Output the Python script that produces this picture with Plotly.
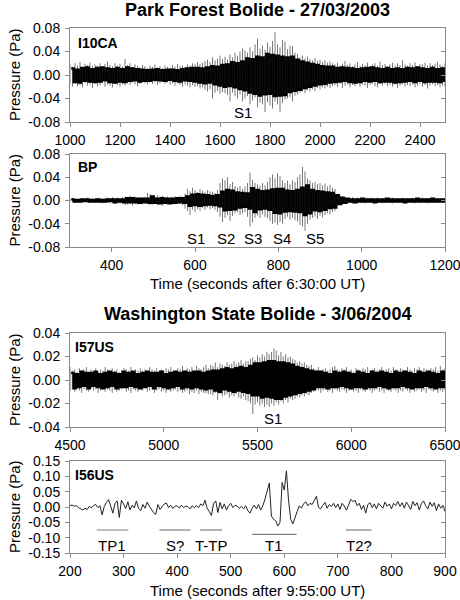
import plotly.graph_objects as go

# ------------------------------------------------------------------
# DATA (Pa)
# ------------------------------------------------------------------
# Panel 1 : I10CA, Park Forest bolide  (outer spikes: peak / trough per 10 s bin)
p1_start, p1_step = 1000, 10
p1_up = [0.018,0.014,0.02,0.016,0.022,0.013,0.019,0.017,0.021,0.015,
         0.018,0.016,0.02,0.014,0.019,0.023,0.017,0.015,0.02,0.016,
         0.019,0.015,0.027,0.017,0.02,0.014,0.018,0.016,0.013,0.017,
         0.015,0.012,0.016,0.014,0.018,0.013,0.015,0.012,0.016,0.014,
         0.013,0.017,0.014,0.019,0.015,0.016,0.014,0.018,0.016,0.02,
         0.018,0.022,0.019,0.021,0.024,
         0.026,0.022,0.03,0.025,0.028,0.033,0.027,0.031,0.026,0.035,0.03,0.038,0.033,0.04,0.045,
         0.042,0.038,0.047,0.04,0.052,0.062,0.045,0.05,0.043,0.055,0.048,0.058,0.073,0.052,0.047,
         0.06,0.057,0.044,0.05,0.049,0.038,
         0.036,0.03,0.033,0.028,0.031,0.027,0.025,0.029,0.024,0.026,0.022,0.025,0.021,0.023,0.02,
         0.018,0.021,0.016,0.019,0.024,0.017,0.02,0.015,0.018,0.022,
         0.016,0.019,0.017,0.021,0.015,0.018,0.02,0.016,0.023,0.017,
         0.019,0.015,0.018,0.021,0.016,0.02,0.017,0.025,0.018,0.016,
         0.02,0.017,0.022,0.015,0.019,0.018,0.021,0.016,0.02,0.017,
         0.019,0.022,0.018,0.016,0.02]
p1_lo = [-0.016,-0.02,-0.015,-0.019,-0.017,-0.021,-0.014,-0.018,-0.016,-0.022,
         -0.015,-0.019,-0.017,-0.014,-0.02,-0.016,-0.018,-0.021,-0.015,-0.017,
         -0.02,-0.016,-0.018,-0.014,-0.017,-0.013,-0.016,-0.019,-0.015,-0.013,
         -0.014,-0.016,-0.012,-0.015,-0.013,-0.017,-0.014,-0.012,-0.015,-0.013,
         -0.016,-0.014,-0.018,-0.015,-0.017,-0.02,-0.016,-0.018,-0.021,-0.017,
         -0.02,-0.019,-0.023,-0.021,-0.025,
         -0.028,-0.024,-0.04,-0.03,-0.027,-0.032,-0.029,-0.031,-0.034,-0.045,-0.03,-0.036,-0.04,-0.033,-0.045,
         -0.04,-0.036,-0.05,-0.043,-0.038,-0.055,-0.047,-0.05,-0.063,-0.046,-0.052,-0.057,-0.045,-0.05,-0.063,
         -0.048,-0.042,-0.04,-0.038,-0.045,-0.035,
         -0.033,-0.03,-0.028,-0.031,-0.026,-0.028,-0.024,-0.027,-0.022,-0.025,-0.021,-0.023,-0.02,-0.022,-0.019,
         -0.017,-0.02,-0.015,-0.022,-0.018,-0.016,-0.021,-0.017,-0.019,-0.015,
         -0.02,-0.016,-0.018,-0.022,-0.017,-0.015,-0.019,-0.021,-0.016,-0.018,
         -0.015,-0.019,-0.017,-0.02,-0.016,-0.022,-0.018,-0.016,-0.02,-0.017,
         -0.019,-0.016,-0.021,-0.018,-0.015,-0.02,-0.017,-0.023,-0.018,-0.016,
         -0.019,-0.017,-0.021,-0.018,-0.02]
# dense black core of the trace: successive extremes, one per 10 s
p1_core = [0.011,-0.012,0.009,-0.013,0.012,-0.01,0.013,-0.011,0.01,-0.012,
           0.012,-0.011,0.013,-0.009,0.011,-0.012,0.01,-0.013,0.012,-0.011,
           0.01,-0.012,0.013,-0.01,0.011,-0.009,0.01,-0.011,0.009,-0.01,
           0.008,-0.01,0.009,-0.008,0.01,-0.009,0.008,-0.01,0.009,-0.008,
           0.009,-0.01,0.008,-0.011,0.01,-0.009,0.011,-0.01,0.012,-0.011,
           0.012,-0.013,0.011,-0.014,0.013,
           -0.013,0.015,-0.016,0.014,-0.018,0.017,-0.02,0.018,-0.019,0.022,-0.021,0.02,-0.024,0.023,-0.026,
           0.028,-0.03,0.027,-0.032,0.031,-0.035,0.03,-0.033,0.036,-0.032,0.034,-0.036,0.033,-0.035,0.031,
           -0.034,0.03,-0.029,0.031,-0.027,0.026,
           -0.025,0.023,-0.022,0.021,-0.02,0.019,-0.018,0.017,-0.016,0.015,-0.015,0.014,-0.013,0.014,-0.012,
           0.012,-0.011,0.013,-0.01,0.012,-0.012,0.011,-0.013,0.01,-0.012,
           0.011,-0.01,0.012,-0.011,0.013,-0.01,0.011,-0.012,0.01,-0.011,
           0.012,-0.011,0.01,-0.013,0.011,-0.012,0.01,-0.011,0.012,-0.01,
           0.011,-0.012,0.013,-0.01,0.011,-0.012,0.01,-0.011,0.012,-0.011,
           0.01,-0.012,0.011,-0.01,0.012]

# Panel 2 : BP  (6 s bins)
p2_start, p2_step = 300, 6
p2_up = [.003,.004,.003,.002,.004,.003,.003,.005,.003,.004,.003,.004,.005,.004,.003,.005,.004,.006,.004,.005,.004,
         .006,.007,.005,.008,.006,.007,.005,.006,.005,.006,
         .013,.011,
         .008,.006,.009,.007,.008,.006,.007,.005,.006,.007,.006,.008,.007,
         .012,.02,.016,.022,.018,.015,.02,.017,.014,.018,.016,
         .015,.013,.018,
         .03,.038,.035,.04,.028,.032,.025,
         .022,.025,.02,.024,.03,
         .048,.035,.03,
         .028,.025,.03,.026,.032,
         .04,.045,.038,.047,.042,.035,
         .03,.034,.028,.035,.032,.04,.045,
         .058,.05,.038,
         .035,.03,.032,.028,.03,.026,.029,.024,.027,.022,
         .02,.012,.009,.007,
         .005,.004,.005,.006,.004,.005,.004,.003,.005,.004,.005,.004,.003,.005,.004,.004,.005,.003,.004,.005,
         .004,.003,.004,.005,.004,.003,.004,.005,.003,.004,.004,.005,.003,.004,.003,.004,.005,.003,.004,.003,.004]
p2_lo = [-.003,-.002,-.004,-.003,-.003,-.004,-.002,-.003,-.004,-.003,-.004,-.003,-.004,-.005,-.003,-.004,-.005,-.004,-.006,-.004,-.005,
         -.006,-.008,-.007,-.006,-.009,-.006,-.007,-.005,-.006,-.005,
         -.006,-.008,
         -.007,-.006,-.008,-.006,-.009,-.005,-.007,-.006,-.005,-.007,-.006,-.006,-.008,
         -.014,-.018,-.025,-.016,-.02,-.015,-.018,-.013,-.016,-.012,-.015,
         -.013,-.016,-.02,
         -.028,-.037,-.03,-.025,-.035,-.027,-.022,
         -.02,-.025,-.022,-.02,-.028,
         -.045,-.038,-.03,
         -.026,-.03,-.024,-.028,-.03,
         -.035,-.04,-.038,-.042,-.037,-.04,
         -.032,-.028,-.033,-.03,-.034,-.036,-.042,
         -.045,-.052,-.04,
         -.033,-.03,-.028,-.032,-.026,-.029,-.025,-.022,-.024,-.02,
         -.018,-.01,-.008,-.006,
         -.005,-.006,-.004,-.005,-.004,-.005,-.003,-.004,-.005,-.004,-.003,-.004,-.005,-.004,-.003,-.005,-.004,-.003,-.004,-.005,
         -.003,-.004,-.004,-.003,-.005,-.004,-.003,-.004,-.005,-.003,-.004,-.003,-.004,-.005,-.003,-.004,-.003,-.004,-.003,-.004,-.003]
p2_core = [.002,-.002,.001,-.002,.002,-.001,.002,-.002,.001,-.002,.002,-.002,.001,-.002,.002,-.001,.002,-.003,.002,-.002,.002,
           -.003,.004,-.003,.004,-.003,.003,-.004,.003,-.003,.003,
           -.004,.007,
           -.004,.003,-.005,.004,-.004,.003,-.005,.003,-.004,.004,-.003,.004,-.004,
           .007,-.009,.01,-.008,.011,-.009,.01,-.008,.009,-.007,.008,
           -.008,.009,-.01,
           .015,-.017,.018,-.016,.017,-.015,.014,
           -.012,.013,-.011,.012,-.014,
           .021,-.02,.018,
           -.015,.016,-.014,.017,-.016,
           .019,-.021,.02,-.022,.02,-.019,
           .017,-.018,.016,-.019,.018,-.02,.022,
           -.025,.026,-.022,
           .018,-.017,.016,-.018,.015,-.016,.014,-.013,.013,-.012,
           .009,-.006,.005,-.004,
           .003,-.002,.002,-.003,.002,-.002,.003,-.002,.002,-.002,.002,-.003,.002,-.002,.002,-.002,.003,-.002,.002,-.002,
           .002,-.002,.002,-.003,.002,-.002,.002,-.002,.003,-.002,.002,-.002,.002,-.002,.003,-.002,.002,-.002,.002,-.002,.002]

# Panel 3 : I57US, Washington State bolide  (12.5 s bins)
p3_start, p3_step = 4500, 12.5
p3_up = [.011,.008,.009,.007,.01,.008,.009,.011,.007,.009,.008,.01,.007,.009,.008,.011,.009,.007,.01,.008,
         .009,.007,.008,.01,.009,.008,.011,.007,.009,.008,.01,.008,.009,.007,.011,.009,.008,.01,.007,.009,
         .008,.01,.009,.011,.008,.007,.01,.009,.012,.008,.01,.009,.011,.008,.012,.01,.009,.011,.013,.01,
         .013,.012,.015,.011,.014,.013,.012,.015,.013,.014,.016,.013,.015,.017,.014,.016,
         .016,.018,.019,.017,.021,.019,.022,.02,.024,.022,.024,.027,.025,.021,.024,.02,.022,.019,.02,.018,
         .017,.015,.016,.014,.015,.013,.012,.013,
         .01,.009,.011,.008,.009,.01,.008,.009,.011,.012,.009,.008,.01,.009,.011,.008,.009,.007,.01,.009,
         .008,.01,.009,.011,.008,.009,.01,.008,.009,.011,.008,.009,.01,.008,.011,.009,.008,.01,.009,.008,
         .011,.009,.008,.01,.009,.011,.008,.01,.009,.008,.01,.009,.011,.008,.012,.009,.01]
p3_lo = [-.009,-.008,-.01,-.007,-.009,-.011,-.008,-.009,-.01,-.007,-.009,-.008,-.011,-.009,-.007,-.01,-.008,-.009,-.011,-.008,
         -.01,-.009,-.008,-.007,-.01,-.009,-.011,-.008,-.009,-.01,-.008,-.009,-.007,-.01,-.009,-.008,-.011,-.009,-.008,-.01,
         -.009,-.011,-.008,-.01,-.009,-.008,-.01,-.009,-.011,-.01,-.009,-.012,-.01,-.011,-.009,-.012,-.01,-.011,-.011,-.012,
         -.012,-.013,-.011,-.017,-.012,-.014,-.013,-.012,-.015,-.013,-.014,-.012,-.015,-.016,-.014,-.017,
         -.018,-.02,-.029,-.021,-.019,-.022,-.02,-.023,-.021,-.023,-.02,-.022,-.019,-.021,-.018,-.02,-.017,-.019,-.016,-.017,
         -.016,-.014,-.015,-.013,-.014,-.012,-.013,-.011,
         -.01,-.008,-.009,-.011,-.009,-.008,-.01,-.009,-.011,-.008,-.009,-.01,-.008,-.009,-.011,-.009,-.008,-.01,-.009,-.011,
         -.008,-.009,-.01,-.008,-.009,-.011,-.009,-.008,-.01,-.009,-.011,-.008,-.009,-.01,-.008,-.009,-.011,-.009,-.01,-.008,
         -.009,-.011,-.008,-.01,-.009,-.008,-.01,-.009,-.011,-.008,-.009,-.01,-.008,-.011,-.009,-.01,-.009]
p3_core = [.006,-.007,.005,-.006,.007,-.005,.006,-.007,.006,-.005,.007,-.006,.005,-.007,.006,-.006,.007,-.005,.006,-.007,
           .005,-.006,.007,-.006,.006,-.005,.007,-.006,.005,-.007,.006,-.006,.007,-.005,.006,-.007,.006,-.005,.007,-.006,
           .005,-.007,.006,-.006,.007,-.005,.006,-.007,.007,-.006,.006,-.007,.007,-.006,.007,-.007,.006,-.008,.007,-.007,
           .008,-.009,.008,-.01,.009,-.008,.01,-.009,.009,-.01,.01,-.009,.011,-.01,.01,-.011,
           .012,-.013,.014,-.013,.014,-.015,.015,-.014,.016,-.015,.016,-.016,.015,-.016,.015,-.014,.014,-.013,.013,-.012,
           .011,-.011,.01,-.01,.009,-.009,.008,-.008,
           .007,-.006,.007,-.006,.006,-.007,.005,-.006,.007,-.006,.006,-.005,.007,-.006,.006,-.007,.005,-.006,.007,-.006,
           .006,-.007,.005,-.006,.007,-.006,.006,-.005,.007,-.006,.006,-.007,.005,-.006,.007,-.006,.006,-.005,.007,-.006,
           .006,-.007,.005,-.006,.007,-.006,.006,-.005,.007,-.006,.006,-.007,.005,-.006,.007,-.006,.006]

# Panel 4 : I56US  (4 s samples)
p4_start, p4_step = 200, 4
p4_val = [.005,.006,.003,.004,-.002,-.006,-.01,-.004,-.008,.002,-.003,.005,.008,-.002,.004,-.026,.002,.015,.024,.003,-.02,.012,.02,-.034,.022,
          .01,-.005,.017,-.01,.006,-.003,.02,-.005,-.012,.008,-.004,.016,.003,-.01,-.018,-.024,.008,-.008,.002,.01,.013,-.002,.006,-.005,.003,
          .004,-.004,.006,-.002,.003,.001,-.006,.004,-.003,.005,-.002,.01,.004,.022,-.004,-.015,-.028,.012,.02,-.018,.015,-.006,.01,-.01,.004,
          .012,-.002,.006,.003,-.004,.002,-.006,.004,-.012,-.02,-.004,.006,-.006,.008,-.01,.004,.026,.05,.078,-.03,-.04,-.045,-.062,-.05,.08,
          .055,.118,.02,-.04,-.055,-.032,-.015,.004,-.004,.01,.017,.004,.012,.008,.02,.035,-.002,-.006,.006,.015,-.004,.008,.002,.012,-.002,
          .01,-.008,.012,.003,-.01,.006,.025,.018,.022,.004,.012,-.008,.006,-.02,.008,.014,-.002,.01,-.006,.012,.004,-.004,.016,.002,.01,
          -.006,.012,.005,.018,.002,.014,-.004,.016,.006,-.008,.018,.004,.014,-.01,.012,.02,.004,-.006,.016,.002,.014,-.012,.01,-.004,.006,-.015]
p4_phase_names = ["TP1", "S?", "T-TP", "T1", "T2?"]
p4_phase_start = [250, 367, 443, 540, 715]
p4_phase_end = [309, 425, 484, 623, 763]
p4_phase_level = [-0.075, -0.075, -0.075, -0.089, -0.075]
p4_phase_label_x = [279, 396, 464, 581, 739]

# Arrival labels
p1_labels, p1_label_x = ["S1"], [1693]
p2_labels, p2_label_x = ["S1", "S2", "S3", "S4", "S5"], [602, 674, 738, 808, 887]
p3_labels, p3_label_x = ["S1"], [5584]

# Axes
x_ranges = [[1000, 2500], [300, 1200], [4500, 6500], [200, 900]]
x_ticks = [[1000, 1200, 1400, 1600, 1800, 2000, 2200, 2400],
           [400, 600, 800, 1000, 1200],
           [4500, 5000, 5500, 6000, 6500],
           [200, 300, 400, 500, 600, 700, 800, 900]]
y_ticks = [[0.08, 0.04, 0.0, -0.04, -0.08],
           [0.08, 0.04, 0.0, -0.04, -0.08],
           [0.04, 0.02, 0.0, -0.02, -0.04],
           [0.15, 0.10, 0.05, 0.0, -0.05, -0.10, -0.15]]
y_ticktext = [["0.08", "0.04", "0.00", "-0.04", "-0.08"],
              ["0.08", "0.04", "0.00", "-0.04", "-0.08"],
              ["0.04", "0.02", "0.00", "-0.02", "-0.04"],
              ["0.15", "0.10", "0.05", "0.00", "-0.05", "-0.10", "-0.15"]]
station_names = ["I10CA", "BP", "I57US", "I56US"]
titles = ["Park Forest Bolide - 27/03/2003", "Washington State Bolide - 3/06/2004"]
x_titles = ["Time (seconds after 6:30:00 UT)", "Time (seconds after 9:55:00 UT)"]
y_title = "Pressure (Pa)"

# ------------------------------------------------------------------
W, H = 460, 600
FONT = "Liberation Sans, Arial, sans-serif"
AXC = "#8a8a8a"
px_left, px_right = 70, 445
panel_px = [(28, 122), (154, 247), (333, 427), (461, 553)]


def px2x(px):
    return px / W


def px2y(py):
    return 1 - py / H


def times(start, step, n):
    return [start + i * step for i in range(n)]


def spikes_xy(start, step, up, lo):
    xs, ys = [], []
    for i, (u, l) in enumerate(zip(up, lo)):
        t = start + i * step
        xs += [t, t, None]
        ys += [l, u, None]
    return xs, ys


fig = go.Figure()

noisy = [
    (p1_start, p1_step, p1_up, p1_lo, p1_core),
    (p2_start, p2_step, p2_up, p2_lo, p2_core),
    (p3_start, p3_step, p3_up, p3_lo, p3_core),
]
for k, (s, d, up, lo, core) in enumerate(noisy):
    xa = "x" if k == 0 else f"x{k+1}"
    ya = "y" if k == 0 else f"y{k+1}"
    xs, ys = spikes_xy(s, d, up, lo)
    fig.add_trace(go.Scatter(x=xs, y=ys, mode="lines", xaxis=xa, yaxis=ya,
                             line=dict(color="rgb(105,105,105)", width=0.9),
                             hoverinfo="skip", showlegend=False))
    tc = [s + d / 2 + i * d for i in range(len(core))]
    fig.add_trace(go.Scatter(x=tc, y=core, mode="lines", xaxis=xa, yaxis=ya,
                             line=dict(color="black", width=2.4, shape="hv"),
                             hoverinfo="skip", showlegend=False))

# Panel 4 trace
t4 = times(p4_start, p4_step, len(p4_val))
fig.add_trace(go.Scatter(x=t4, y=p4_val, mode="lines", xaxis="x4", yaxis="y4",
                         line=dict(color="#222222", width=1),
                         hoverinfo="skip", showlegend=False))
# phase bars
for s, e, lv in zip(p4_phase_start, p4_phase_end, p4_phase_level):
    fig.add_trace(go.Scatter(x=[s, e], y=[lv, lv], mode="lines", xaxis="x4", yaxis="y4",
                             line=dict(color="#808080", width=1.2),
                             hoverinfo="skip", showlegend=False))

# invisible traces for the right-side tick axes
for k in range(4):
    xa = "x" if k == 0 else f"x{k+1}"
    fig.add_trace(go.Scatter(x=[x_ranges[k][0]], y=[0], mode="markers", xaxis=xa, yaxis=f"y{k+5}",
                             marker=dict(opacity=0), hoverinfo="skip", showlegend=False))

layout = dict(width=W, height=H, margin=dict(l=0, r=0, t=0, b=0, autoexpand=False),
              paper_bgcolor="white", plot_bgcolor="white",
              font=dict(family=FONT, size=14, color="black"), showlegend=False)

for k in range(4):
    top, bot = panel_px[k]
    sx = "" if k == 0 else str(k + 1)
    ya_name = "y" if k == 0 else f"y{k+1}"
    xa_name = "x" if k == 0 else f"x{k+1}"
    yr = [y_ticks[k][-1], y_ticks[k][0]]
    layout["xaxis" + sx] = dict(domain=[px2x(px_left), px2x(px_right)], anchor=ya_name,
                                range=x_ranges[k], tickvals=x_ticks[k], ticks="outside", ticklen=4,
                                tickcolor=AXC, showline=True, linecolor=AXC, linewidth=1, mirror=True,
                                showgrid=False, zeroline=False, tickfont=dict(size=14),
                                ticklabelstandoff=1, automargin=False, ticklabeloverflow="allow")
    layout["yaxis" + sx] = dict(domain=[px2y(bot), px2y(top)], anchor=xa_name,
                                range=yr, tickvals=y_ticks[k], ticktext=y_ticktext[k],
                                ticks="outside", ticklen=4, tickcolor=AXC, showline=True,
                                linecolor=AXC, linewidth=1, mirror=True, showgrid=False,
                                zeroline=False, tickfont=dict(size=14), ticklabelstandoff=2,
                                automargin=False, ticklabeloverflow="allow")
    layout[f"yaxis{k+5}"] = dict(overlaying=ya_name, side="right", anchor=xa_name, range=yr,
                                 tickvals=y_ticks[k], ticks="inside", ticklen=4, tickcolor=AXC,
                                 showticklabels=False, showline=False, showgrid=False, zeroline=False,
                                 automargin=False)

fig.update_layout(**layout)

ann = []
xc = px2x((px_left + px_right) / 2)
# titles
ann.append(dict(text="<b>" + titles[0] + "</b>", x=xc, y=px2y(10), xref="paper", yref="paper",
                showarrow=False, font=dict(size=18), xanchor="center", yanchor="middle"))
ann.append(dict(text="<b>" + titles[1] + "</b>", x=xc, y=px2y(314), xref="paper", yref="paper",
                showarrow=False, font=dict(size=18), xanchor="center", yanchor="middle"))
# x titles
ann.append(dict(text=x_titles[0], x=xc, y=px2y(283), xref="paper", yref="paper",
                showarrow=False, font=dict(size=15), xanchor="center", yanchor="middle"))
ann.append(dict(text=x_titles[1], x=xc, y=px2y(590), xref="paper", yref="paper",
                showarrow=False, font=dict(size=15), xanchor="center", yanchor="middle"))
# y titles and station names
station_px = [(76, 43), (76, 167), (73, 347), (73, 475)]
for k in range(4):
    top, bot = panel_px[k]
    ann.append(dict(text=y_title, x=px2x(14), y=px2y((top + bot) / 2), xref="paper", yref="paper",
                    showarrow=False, textangle=-90, font=dict(size=15),
                    xanchor="center", yanchor="middle"))
    ann.append(dict(text="<b>" + station_names[k] + "</b>", x=px2x(station_px[k][0]),
                    y=px2y(station_px[k][1]), xref="paper", yref="paper", showarrow=False,
                    font=dict(size=14), xanchor="left", yanchor="middle"))
# arrival labels
for lbl, lx in zip(p1_labels, p1_label_x):
    ann.append(dict(text=lbl, x=lx, y=-0.063, xref="x", yref="y", showarrow=False,
                    font=dict(size=15), xanchor="center", yanchor="middle"))
for lbl, lx in zip(p2_labels, p2_label_x):
    ann.append(dict(text=lbl, x=lx, y=-0.065, xref="x2", yref="y2", showarrow=False,
                    font=dict(size=15), xanchor="center", yanchor="middle"))
for lbl, lx in zip(p3_labels, p3_label_x):
    ann.append(dict(text=lbl, x=lx, y=-0.033, xref="x3", yref="y3", showarrow=False,
                    font=dict(size=15), xanchor="center", yanchor="middle"))
for lbl, lx in zip(p4_phase_names, p4_phase_label_x):
    ann.append(dict(text=lbl, x=lx, y=-0.127, xref="x4", yref="y4", showarrow=False,
                    font=dict(size=15), xanchor="center", yanchor="middle"))

fig.update_layout(annotations=ann)
fig.write_html("out.html", config={"displayModeBar": False},
               post_script="document.body.style.margin='0';document.body.style.overflow='hidden';")
